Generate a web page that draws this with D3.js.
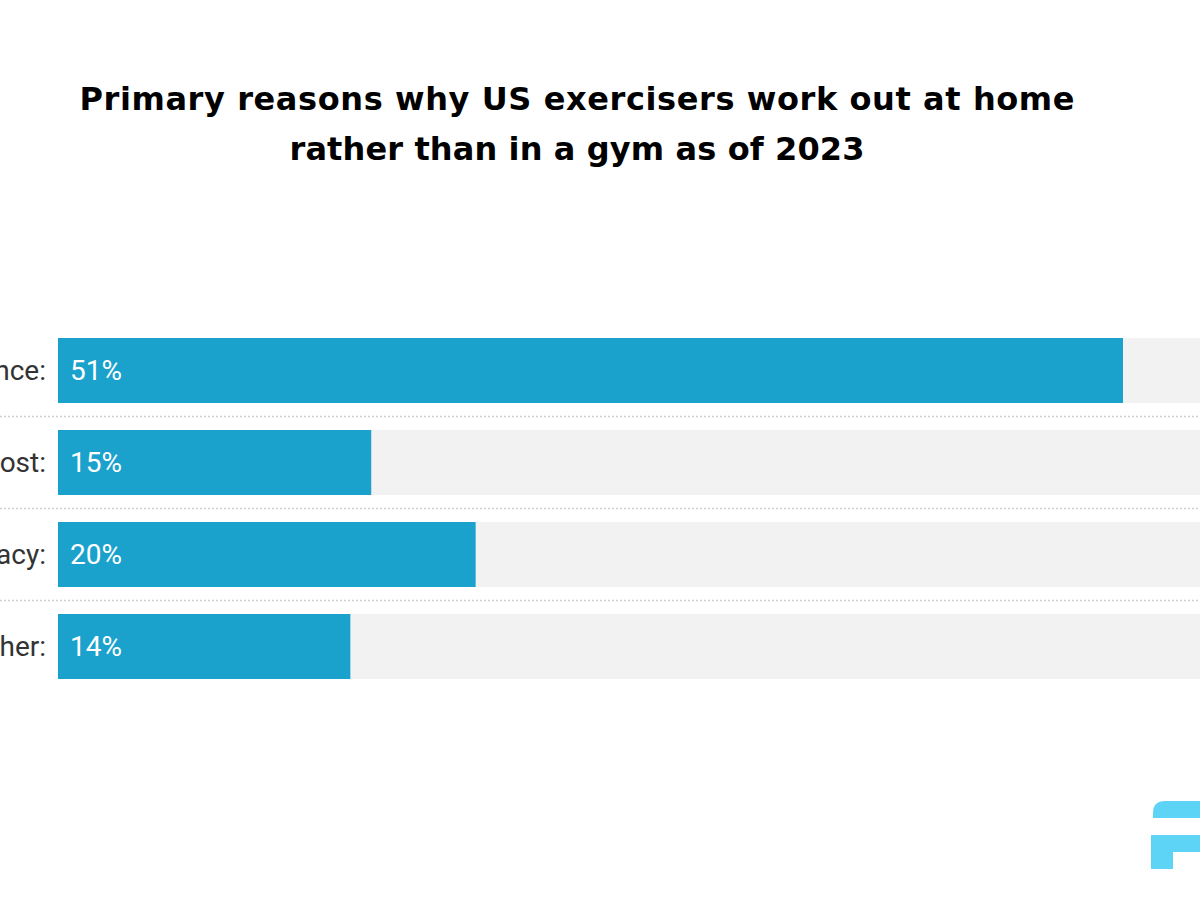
<!DOCTYPE html>
<html>
<head>
<meta charset="utf-8">
<script src="https://cdn.jsdelivr.net/npm/d3@7"></script>
<style>
  body { margin: 0; background: #fff; }
  svg { display: block; }
</style>
</head>
<body>
<div id="chart"></div>
<script>
var width = 1200
var height = 900

var categories = ['Convenience:', 'Cost:', 'Privacy:', 'Other:']
var values = [51, 15, 20, 14]
var titleLines = ['Primary reasons why US exercisers work out at home', 'rather than in a gym as of 2023']
var titleWidths = [995, 575]

var svg = d3.select('#chart')
  .append('svg')
  .attr('width', width)
  .attr('height', height)

// title
svg.append('g')
  .attr('class', 'title')
  .selectAll('text')
  .data(titleLines)
  .join('text')
  .attr('x', 577)
  .attr('y', (d, i) => 110 + i * 50)
  .attr('text-anchor', 'middle')
  .attr('textLength', (d, i) => titleWidths[i])
  .attr('lengthAdjust', 'spacing')
  .style('font-family', '"DejaVu Sans", sans-serif')
  .style('font-weight', 'bold')
  .style('font-size', '32px')
  .style('fill', '#000')
  .text(d => d)

var xScale = d3.scaleLinear()
  .domain([0, 51])
  .range([58, 1123])

var yScale = d3.scaleBand()
  .domain(categories)
  .range([338, 679])
  .paddingInner(0.2935)
  .paddingOuter(0)

var step = yScale.step()

// dotted separators
svg.append('g')
  .selectAll('line')
  .data(categories.slice(1))
  .join('line')
  .attr('x1', 0)
  .attr('x2', width)
  .attr('y1', d => yScale(d) - (step - yScale.bandwidth()) / 2)
  .attr('y2', d => yScale(d) - (step - yScale.bandwidth()) / 2)
  .style('stroke', '#cfcfcf')
  .style('stroke-width', 1.5)
  .style('stroke-dasharray', '2,2')

// background tracks
svg.append('g')
  .selectAll('rect')
  .data(categories)
  .join('rect')
  .attr('x', xScale(0))
  .attr('y', d => yScale(d))
  .attr('width', xScale(62) - xScale(0))
  .attr('height', yScale.bandwidth())
  .style('fill', '#f2f2f2')

// bars
svg.append('g')
  .selectAll('rect')
  .data(values)
  .join('rect')
  .attr('x', xScale(0))
  .attr('y', (d, i) => yScale(categories[i]))
  .attr('width', d => xScale(d) - xScale(0))
  .attr('height', yScale.bandwidth())
  .style('fill', '#1aa1cc')

// value labels
svg.append('g')
  .selectAll('text')
  .data(values)
  .join('text')
  .attr('x', xScale(0) + 12)
  .attr('y', (d, i) => yScale(categories[i]) + yScale.bandwidth() / 2)
  .attr('dy', '0.35em')
  .style('font-family', 'Roboto, sans-serif')
  .style('font-size', '28px')
  .style('fill', '#fff')
  .text(d => d + '%')

// category labels (cut off at the left edge, as in the source)
svg.append('g')
  .selectAll('text')
  .data(categories)
  .join('text')
  .attr('x', 46)
  .attr('y', d => yScale(d) + yScale.bandwidth() / 2)
  .attr('dy', '0.35em')
  .attr('text-anchor', 'end')
  .style('font-family', 'Roboto, sans-serif')
  .style('font-size', '28px')
  .style('fill', '#333')
  .text(d => d)

// logo corner
var logo = svg.append('g').style('fill', '#5dd3f5')
logo.append('path')
  .attr('d', 'M1153,818 L1153,813 Q1153,801 1165,801 L1200,801 L1200,818 Z')
logo.append('path')
  .attr('d', 'M1151,835 L1200,835 L1200,852 L1173,852 L1173,869 L1151,869 Z')
</script>
</body>
</html>
